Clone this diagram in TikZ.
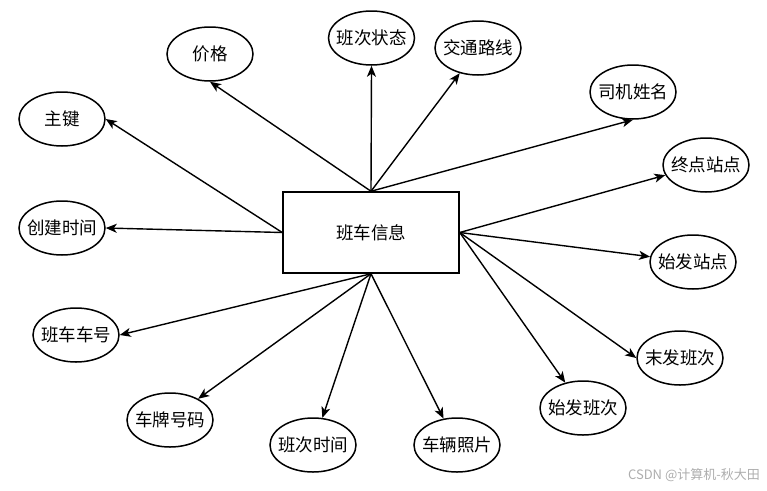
\documentclass[tikz,border=0pt]{standalone}
\usepackage{fontspec}
\newfontfamily\cjk{Noto Sans CJK SC}
\usetikzlibrary{shapes.geometric,arrows.meta}
\newcommand\lbl[1]{\makebox[0pt][c]{#1}}
\begin{document}
\begin{tikzpicture}[x=1pt,y=-1pt,
  attr/.style={ellipse,draw,line width=1.5pt,minimum width=86pt,minimum height=54pt,inner sep=0pt,font=\cjk\fontsize{17.5}{19}\selectfont},
  entity/.style={rectangle,draw,line width=1.5pt,minimum width=176pt,minimum height=81pt,inner sep=0pt,font=\cjk\fontsize{17.5}{19}\selectfont},
  link/.style={line width=1.4pt,-{Stealth[length=11pt,width=9pt,inset=3pt]}}]
\useasboundingbox (0,0) rectangle (767,490);
\node[entity] (main) at (371,232.5) {班车信息};
\node[attr] (jiage) at (210,54) {\lbl{价格}};
\node[attr] (zhuangtai) at (371.5,38) {\lbl{班次状态}};
\node[attr] (luxian) at (478,48) {\lbl{交通路线}};
\node[attr] (siji) at (633,92) {\lbl{司机姓名}};
\node[attr] (zhongdian) at (706,165) {\lbl{终点站点}};
\node[attr] (zhujian) at (62,119) {\lbl{主键}};
\node[attr] (chuangjian) at (62,228) {\lbl{创建时间}};
\node[attr] (shifa) at (693,262) {\lbl{始发站点}};
\node[attr] (chehao) at (76,335) {\lbl{班车车号}};
\node[attr] (mofa) at (680,358) {\lbl{末发班次}};
\node[attr] (chepai) at (170,420) {\lbl{车牌号码}};
\node[attr] (shijian) at (313,445) {\lbl{班次时间}};
\node[attr] (shifabanci) at (583,408) {\lbl{始发班次}};
\node[attr] (zhaopian) at (457,445) {\lbl{车辆照片}};
\node[anchor=east,text=black!32,inner sep=0pt,font=\cjk\fontsize{13}{15}\selectfont] (wm) at (760,475) {CSDN @计算机-秋大田};
\draw[link] (main.north) -- (jiage.south);
\draw[link] (main.north) -- (zhuangtai.south);
\draw[link] (main.north) -- (luxian.234);
\draw[link] (main.north) -- (siji.south);
\draw[link] (main.east) -- (zhongdian.194);
\draw[link] (main.west) -- (zhujian.east);
\draw[link] (main.west) -- (chuangjian.east);
\draw[link] (main.east) -- (shifa.173);
\draw[link] (main.east) -- (mofa.west);
\draw[link] (main.east) -- (shifabanci.125);
\draw[link] (main.south) -- (chehao.east);
\draw[link] (main.south) -- (chepai.37);
\draw[link] (main.south) -- (shijian.71);
\draw[link] (main.south) -- (zhaopian.117);
\end{tikzpicture}
\end{document}
